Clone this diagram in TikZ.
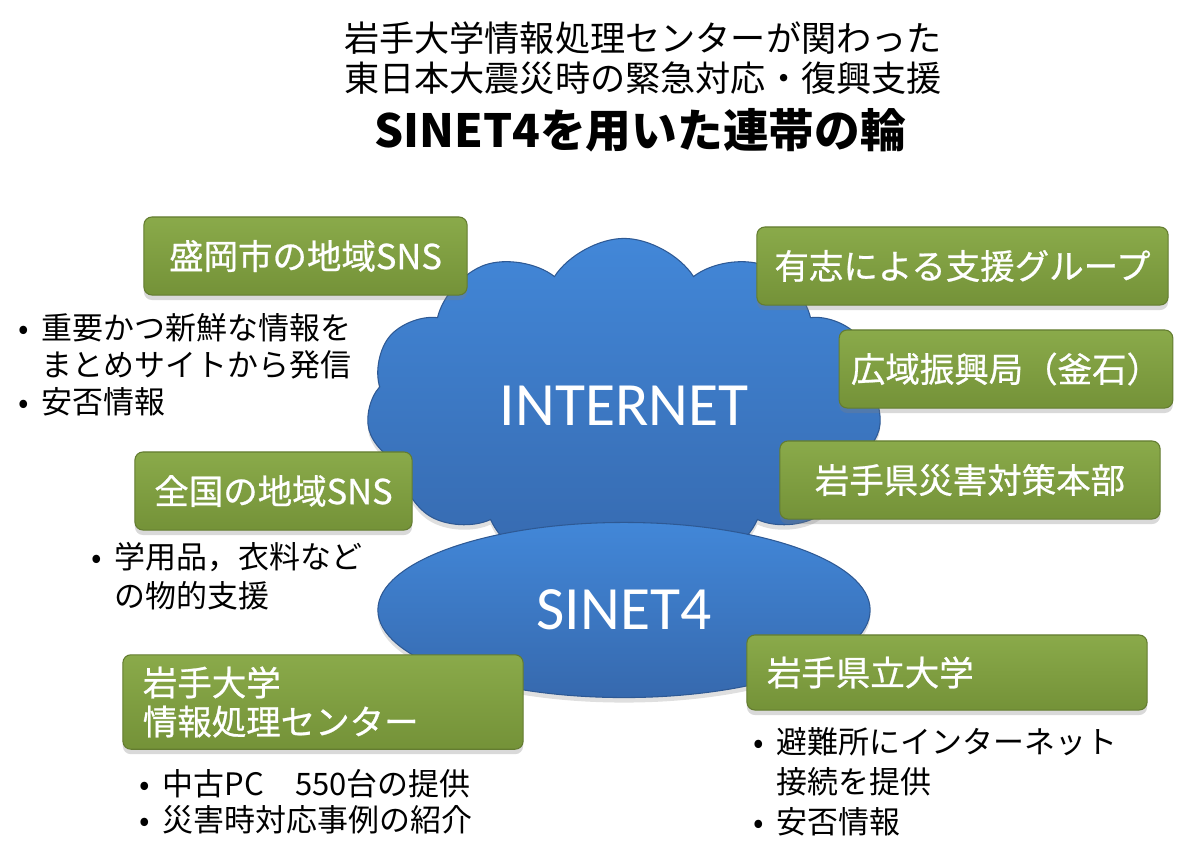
\documentclass[tikz,border=0pt]{standalone}
\usepackage{fontspec}
\setmainfont{Noto Sans CJK JP}
\newfontfamily\netfont{Carlito}
\newfontfamily\boxfont{Noto Sans CJK JP}[FakeBold=0.7]
\usetikzlibrary{shapes.symbols,shapes.geometric,shadows}
\definecolor{netblue}{RGB}{66,135,216}
\definecolor{netbluedark}{RGB}{54,105,174}
\definecolor{boxgreen}{RGB}{138,170,74}
\definecolor{boxgreendark}{RGB}{116,146,56}
\def\bul{\makebox[0.75em][l]{•}}
\def\ind{\hspace*{0.75em}}
\tikzset{
  title/.style={align=center,inner sep=0pt,font=\fontsize{10}{11.4}\selectfont},
  net/.style={top color=netblue,bottom color=netbluedark,draw=netbluedark!85!black,line width=0.3pt,
    text=white,font=\netfont\fontsize{17.5}{20}\selectfont,
    drop shadow={opacity=0.25,shadow xshift=0pt,shadow yshift=-0.05cm}},
  orgbox/.style={rounded corners=0.08cm,top color=boxgreen,bottom color=boxgreendark,
    draw=boxgreendark!85!black,line width=0.3pt,text=white,font=\boxfont\fontsize{9.8}{11.2}\selectfont,
    drop shadow={opacity=0.3,shadow xshift=0pt,shadow yshift=-0.05cm}},
  notes/.style={anchor=north west,align=left,inner sep=0pt,font=\fontsize{8.8}{10.5}\selectfont}
}
\begin{document}
\begin{tikzpicture}[x=0.01cm,y=-0.01cm]
  \useasboundingbox (0,0) rectangle (1200,854);
  \node[title] (heading) at (643,58) {岩手大学情報処理センターが関わった\\東日本大震災時の緊急対応・復興支援};
  \node[title,font=\bfseries\fontsize{13}{15}\selectfont] (slogan) at (640,130) {SINET4を用いた連帯の輪};

  \node[net,cloud,cloud puffs=11,cloud puff arc=115,aspect=1.55,
        minimum width=5.15cm,minimum height=3.35cm] (internet) at (624,406) {INTERNET};
  \node[net,ellipse,minimum width=4.92cm,minimum height=1.75cm] (sinet) at (624,610) {SINET4};

  \node[orgbox,minimum width=3.23cm,minimum height=0.78cm] (moriokasns) at (305.5,256) {盛岡市の地域SNS};
  \node[orgbox,minimum width=4.11cm,minimum height=0.78cm] (volunteer) at (962.5,266) {有志による支援グループ};
  \node[orgbox,minimum width=3.18cm,minimum height=0.78cm] (kouiki) at (1006,369) {広域振興局（釜石）};
  \node[orgbox,minimum width=3.80cm,minimum height=0.78cm] (saigai) at (970,480) {岩手県災害対策本部};
  \node[orgbox,minimum width=2.77cm,minimum height=0.78cm] (zenkokusns) at (273.5,491) {全国の地域SNS};
  \node[orgbox,minimum width=4.00cm,minimum height=0.90cm,text width=3.6cm,align=left,
        font=\boxfont\fontsize{9.8}{11.1}\selectfont] (iwatedai) at (323,702) {岩手大学\\情報処理センター};
  \node[orgbox,minimum width=4.00cm,minimum height=0.75cm,text width=3.6cm,align=left] (kenritsu) at (947,672.5) {岩手県立大学};

  \node[notes] (moriokanote) at (18,313) {\bul 重要かつ新鮮な情報を\\\ind まとめサイトから発信\\\bul 安否情報};
  \node[notes,font=\fontsize{8.8}{11}\selectfont] (zenkokunote) at (91,542) {\bul 学用品，衣料など\\\ind の物的支援};
  \node[notes,font=\fontsize{8.8}{10}\selectfont] (iwatedainote) at (139,769) {\bul 中古PC\quad 550台の提供\\\bul 災害時対応事例の紹介};
  \node[notes,font=\fontsize{8.8}{11.3}\selectfont] (kenritsunote) at (753,727) {\bul 避難所にインターネット\\\ind 接続を提供\\\bul 安否情報};
\end{tikzpicture}
\end{document}
